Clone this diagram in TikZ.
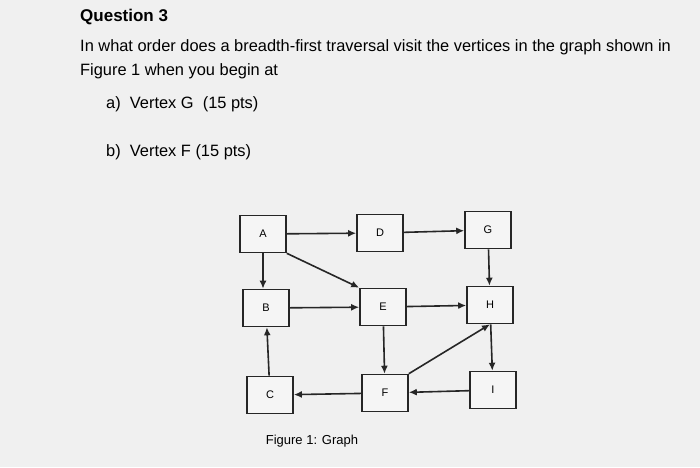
\documentclass[tikz,border=0pt]{standalone}
\usepackage{fontspec}
\setmainfont{Liberation Sans}
\usetikzlibrary{arrows.meta}
\begin{document}
\begin{tikzpicture}[x=1pt,y=-1pt,
  vbox/.style={draw=black!85,line width=1.6pt,fill=gray!8,minimum width=46pt,minimum height=37pt,font=\fontsize{11}{13}\selectfont,inner sep=0pt},
  edge/.style={-{Latex[length=8pt,width=7pt]},line width=1.6pt,draw=black!85},
  txt/.style={anchor=west,inner sep=0pt,font=\fontsize{16.4}{19}\selectfont}]
\fill[gray!12] (0,0) rectangle (700,467);
\useasboundingbox (0,0) rectangle (700,467);
\node[txt,font=\fontsize{17}{20}\selectfont\bfseries] (q) at (80,17) {Question 3};
\node[txt] (l1) at (80,47) {In what order does a breadth-first traversal visit the vertices in the graph shown in};
\node[txt] (l2) at (80,71) {Figure 1 when you begin at};
\node[txt] (a) at (106,104) {a)\ \ Vertex G\ \ (15 pts)};
\node[txt] (b) at (106,152) {b)\ \ Vertex F (15 pts)};
\node[vbox] (A) at (263,234) {A};
\node[vbox] (D) at (380,233) {D};
\node[vbox] (G) at (488,230) {G};
\node[vbox] (B) at (266,308) {B};
\node[vbox] (E) at (383,307) {E};
\node[vbox] (H) at (490,305) {H};
\node[vbox] (C) at (270,395) {C};
\node[vbox] (F) at (385,393) {F};
\node[vbox] (I) at (493,390) {I};
\draw[edge] (A) -- (D);
\draw[edge] (D) -- (G);
\draw[edge] (A.south) -- (B.north-|A.south);
\draw[edge] (A.south east) -- (E.north west);
\draw[edge] (G) -- (H);
\draw[edge] (B) -- (E);
\draw[edge] (E) -- (H);
\draw[edge] (E) -- (F);
\draw[edge] (F.north east) -- (H.south);
\draw[edge] (H) -- (I);
\draw[edge] (I) -- (F);
\draw[edge] (F) -- (C);
\draw[edge] (C) -- (B);
\node[font=\fontsize{13}{15}\selectfont] (cap) at (312,441) {Figure 1: Graph};
\end{tikzpicture}
\end{document}
